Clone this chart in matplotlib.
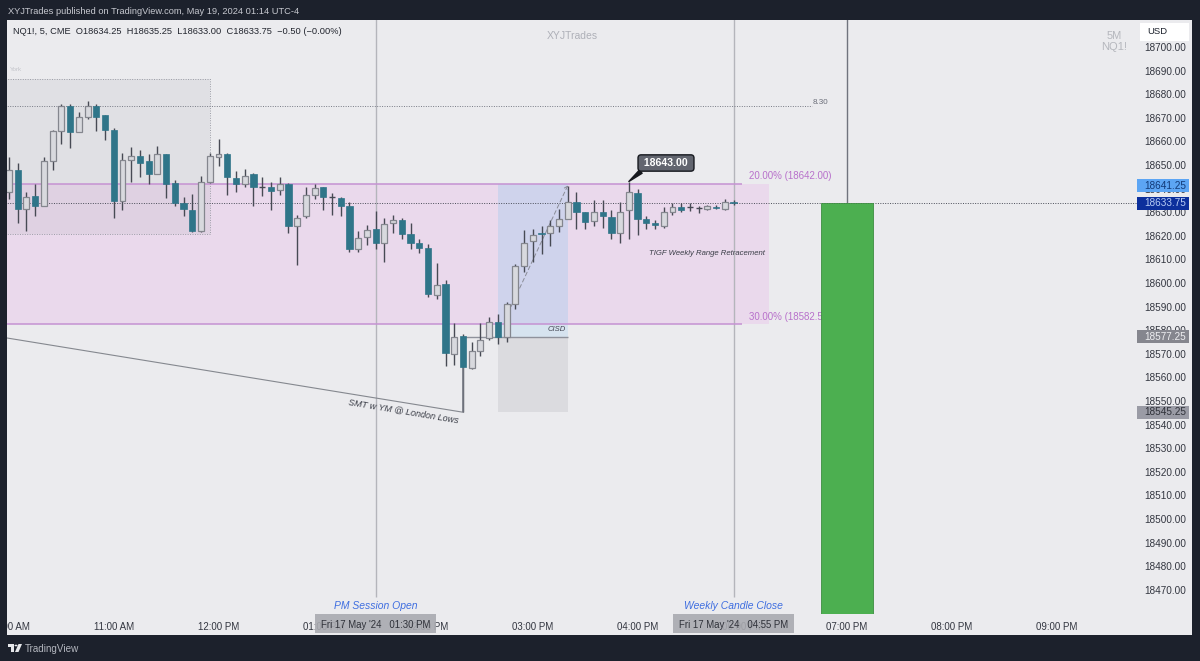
import matplotlib
matplotlib.use("Agg")
import matplotlib.pyplot as plt
from matplotlib.patches import Rectangle, Polygon, Circle, FancyArrowPatch
from matplotlib.transforms import Bbox, TransformedBbox

plt.rcParams["font.family"] = ["Liberation Sans", "DejaVu Sans"]

# 5 minute candles, first one is 10:00 AM, last one is 04:55 PM
opens = [18638.5, 18648, 18631.5, 18637, 18632.75, 18651.75, 18664.5, 18675, 18664, 18670.5,
         18675, 18671, 18664.75, 18634.75, 18652.25, 18653.75, 18651.75, 18646.25, 18654.75, 18642.25,
         18633.75, 18631, 18622, 18642.75, 18653.5, 18654.75, 18644.5, 18641.75, 18646, 18640.5,
         18640.5, 18639.25, 18641.75, 18624, 18628.5, 18637.5, 18640.5, 18636.25, 18636, 18632.5,
         18614.25, 18619.5, 18622.75, 18616.75, 18625.25, 18626.75, 18620.75, 18617, 18615, 18594.75,
         18599.5, 18570, 18577.75, 18564, 18571, 18576.5, 18583.5, 18577, 18591.25, 18607,
         18617.75, 18621, 18621, 18624, 18627.25, 18634.5, 18630, 18626.25, 18630, 18628,
         18621, 18630.75, 18638, 18627, 18625.25, 18624.25, 18630, 18632, 18632, 18631.75,
         18631.5, 18632.25, 18631.25, 18634.25]
highs = [18653.5, 18651, 18638.5, 18642, 18653.5, 18664.75, 18676, 18676, 18672.5, 18677,
         18676, 18671.25, 18665.75, 18655, 18657.75, 18656.5, 18654.75, 18658, 18654.75, 18643.5,
         18636.25, 18637.75, 18645.25, 18655.25, 18661, 18655, 18647.25, 18648.5, 18646.75, 18644.75,
         18643, 18645, 18642.25, 18628.75, 18640.5, 18641.75, 18640.5, 18638, 18636.25, 18634.5,
         18622, 18624.5, 18630.5, 18627.5, 18629, 18627.75, 18625.25, 18618.75, 18616.5, 18608.5,
         18601.25, 18583, 18578.25, 18575, 18583.25, 18585.75, 18587, 18592, 18608, 18622.5,
         18622.75, 18624, 18626.5, 18631.5, 18641.25, 18638.5, 18630, 18635, 18635, 18630.75,
         18634.5, 18643, 18639.75, 18628.25, 18626.5, 18632, 18633.75, 18634, 18633.75, 18632.75,
         18633, 18633, 18635.5, 18635.25]
lows = [18635.5, 18625.25, 18622, 18628.5, 18632.5, 18648, 18659, 18657.25, 18664, 18669.5,
        18664.25, 18660.5, 18627.75, 18631, 18643, 18644.75, 18642, 18646.25, 18636, 18632.5,
        18628.5, 18621.5, 18621.75, 18642.5, 18649.5, 18637.25, 18638.5, 18640.5, 18632.5, 18637,
        18630.75, 18637.5, 18621, 18607.5, 18627.5, 18635.5, 18631, 18629, 18628.5, 18613.25,
        18613.25, 18616.25, 18614.5, 18609, 18621, 18618.75, 18614.5, 18612.75, 18594.25, 18593.25,
        18565, 18565.25, 18545.25, 18563.5, 18569, 18575.75, 18574.25, 18575, 18589, 18604.75,
        18608.75, 18612.5, 18615.75, 18621.5, 18627.25, 18622.75, 18622.75, 18624, 18623.5, 18618.75,
        18617, 18618.75, 18620.5, 18623, 18623, 18623.5, 18629, 18630, 18630.5, 18629.75,
        18630.75, 18631.25, 18631, 18633]
closes = [18648, 18631.5, 18636.25, 18632.75, 18651.75, 18664.5, 18675, 18664, 18670.5, 18675,
          18670.5, 18665, 18634.75, 18652, 18653.75, 18651, 18646, 18654.5, 18642, 18633.75,
          18631.5, 18622, 18643, 18653.75, 18654.75, 18645, 18642, 18645.25, 18640.5, 18640.5,
          18639, 18641.75, 18624, 18627.75, 18637.5, 18640.25, 18636.25, 18636.25, 18632.75, 18614.25,
          18619.25, 18622.5, 18617, 18625, 18626.75, 18620.75, 18617, 18615, 18595.25, 18599,
          18570.25, 18577.25, 18564.5, 18571, 18576, 18583.5, 18577.25, 18591, 18607, 18617,
          18620.25, 18620.75, 18624, 18627, 18634.5, 18630, 18626, 18630, 18628.25, 18621,
          18630.25, 18638.5, 18627, 18625.25, 18624.75, 18630, 18632, 18631, 18632, 18631.75,
          18632.75, 18631.75, 18634.25, 18633.75]

price_ticks = [18470 + 10 * i for i in range(24)]
time_ticks = [0, 12, 24, 36, 48, 60, 72, 84, 96, 108, 120]
time_labels = ["10:00 AM", "11:00 AM", "12:00 PM", "01:00 PM", "02:00 PM", "03:00 PM",
               "04:00 PM", "06:00 PM", "07:00 PM", "08:00 PM", "09:00 PM"]

last_price = 18633.75
fib_top = 18642.0
fib_bottom = 18582.5
cisd_level = 18577.25
smt_low = 18545.25
pm_open_idx = 42
weekly_close_idx = 83
target_idx = 96

W, H = 1200, 661
DARK = "#1c212c"
PANEL = "#ebebee"
TEAL = "#2f7589"
LIGHT = "#d8d9de"
EDGE = "#84868e"
WICK = "#474a54"
PURPLE = "#b871cb"

fig = plt.figure(figsize=(W / 100, H / 100), dpi=100, facecolor=DARK)


def fx(px):
    return px / W


def fy(px):
    return 1 - px / H


fig.add_artist(Rectangle((fx(7), fy(635)), fx(1185), 615 / H, transform=fig.transFigure,
                         facecolor=PANEL, edgecolor="none", zorder=-1))

ax = fig.add_axes([fx(7), fy(614), fx(1133), 594 / H])
ax.patch.set_visible(False)
ax.set_xlim(-0.229, 129.55)
ax.set_ylim(18459.75, 18711.44)
for s in ax.spines.values():
    s.set_visible(False)

ax.yaxis.tick_right()
ax.set_yticks(price_ticks)
ax.set_yticklabels(["%.2f" % p for p in price_ticks], fontsize=7.2, color="#333640")
ax.set_xticks(time_ticks)
ax.set_xticklabels(time_labels, fontsize=7.0, color="#333640")
ax.tick_params(axis="both", length=0)
ax.tick_params(axis="y", pad=3)
ax.tick_params(axis="x", pad=5.5)
panel_clip = TransformedBbox(Bbox([[fx(7), 0], [1, 1]]), fig.transFigure)
for lab in ax.get_xticklabels():
    lab.set_clip_box(panel_clip)
    lab.set_clip_on(True)

# ranges and boxes
ax.add_patch(Rectangle((-1, fib_bottom), 88, fib_top - fib_bottom, facecolor="#ead9ec", edgecolor="none", zorder=1))
ax.add_patch(Rectangle((-1, 18620.75), 24.05, 65.65, facecolor="#b0b0ba", alpha=0.18, edgecolor="none", zorder=1.1))
ax.add_patch(Rectangle((-1, 18620.75), 24.05, 65.65, fill=False, edgecolor="#9a9ca5",
                       linestyle=(0, (1, 1.5)), linewidth=0.7, zorder=1.1))
ax.add_patch(Rectangle((56, fib_bottom), 8, fib_top - fib_bottom, facecolor="#cfd3ec", edgecolor="none", zorder=1.2))
ax.add_patch(Rectangle((56, cisd_level), 8, fib_bottom - cisd_level, facecolor="#d6e3ef", edgecolor="none", zorder=1.2))
ax.add_patch(Rectangle((56, smt_low), 8, cisd_level - smt_low, facecolor="#dbdbdf", edgecolor="none", zorder=1.2))

ax.hlines([fib_top, fib_bottom], -1, 84, color="#c592d2", linewidth=1.1, zorder=1.4)
ax.hlines(cisd_level, 52, 64, color="#8f929c", linewidth=1.0, zorder=1.4)
ax.hlines(18675, -1, 92, color="#777a84", linewidth=0.7, linestyle=(0, (1, 1.5)), zorder=1.5)
ax.hlines(last_price, -1, 130, color="#4a4d58", linewidth=0.7, linestyle=(0, (1, 1.5)), zorder=1.5)
ax.vlines([pm_open_idx, weekly_close_idx], 18467, 18712, color="#b4b5bb", linewidth=1.0, zorder=1.3)
ax.vlines(target_idx, last_price, 18712, color="#70737d", linewidth=1.0, zorder=1.3)

ax.plot([-0.229, 52], [18576.7, smt_low], color="#85888f", linewidth=0.8, zorder=1.6)
ax.add_patch(FancyArrowPatch((57.5, 18590), (64, 18641.25), arrowstyle="->,head_length=2,head_width=1.5",
                             linestyle=(0, (4, 3)), color="#8a8c96", linewidth=0.7, shrinkA=0, shrinkB=0, zorder=1.7))

# candles
for i in range(len(opens)):
    o, h, l, c = opens[i], highs[i], lows[i], closes[i]
    ax.vlines(i, l, h, color=WICK, linewidth=1.0, zorder=2)
    if c > o:
        ax.bar(i, c - o, bottom=o, width=0.68, color=LIGHT, edgecolor=EDGE, linewidth=0.9, zorder=3)
    elif c < o:
        ax.bar(i, o - c, bottom=c, width=0.72, color=TEAL, edgecolor=TEAL, linewidth=0.5, zorder=3)
    else:
        ax.hlines(o, i - 0.36, i + 0.36, color=WICK, linewidth=1.0, zorder=3)
ax.vlines(52, smt_low, closes[52], color="#777a84", linewidth=1.2, zorder=2.2)

ax.text(84.8, fib_top + 3.5, "20.00% (18642.00)", fontsize=7.0, color=PURPLE, va="center", zorder=4)
ax.text(84.8, fib_bottom + 3.2, "30.00% (18582.50)", fontsize=7.0, color=PURPLE, va="center", zorder=4)

# projected weekly candle
ax.add_patch(Rectangle((93, 18459.75), 6, last_price - 18459.75, facecolor="#4caf50", edgecolor="#3c8d40",
                       linewidth=0.6, zorder=5))

ax.text(92, 18676.5, "8.30", fontsize=5.8, color="#6a6d78", va="center", ha="left", zorder=4)
ax.text(80, 18612.5, "TIGF Weekly Range Retracement", fontsize=5.55, style="italic", color="#3a3d47",
        ha="center", va="center", zorder=4)
ax.text(62.7, 18580.5, "CISD", fontsize=5.5, style="italic", color="#444753", ha="center", va="center", zorder=4)
ax.text(45.2, 18545.8, "SMT w YM @ London Lows", fontsize=6.5, style="italic", color="#3a3d47",
        rotation=-9.5, ha="center", va="center", rotation_mode="anchor", zorder=4)
ax.text(0.1, 18690.3, "York", fontsize=4.5, color="#c4c5cb", ha="left", va="center", zorder=1)

ax.annotate(" 18643.00 ", xy=(71, highs[71]), xytext=(666, H - 163), textcoords="figure pixels",
            fontsize=7.6, fontweight="bold", color="white", ha="center", va="center",
            bbox=dict(boxstyle="round,pad=0.3,rounding_size=0.3", facecolor="#62656f", edgecolor="#16181e", linewidth=1.0),
            arrowprops=dict(arrowstyle="wedge,tail_width=0.4,shrink_factor=0.5", facecolor="#16181e",
                            edgecolor="#16181e", relpos=(0.08, 0), shrinkA=0, shrinkB=0),
            zorder=6)

# labels below the chart
ax.text(pm_open_idx, 18463.2, "PM Session Open", fontsize=7.5, style="italic", color="#3f6ee0", ha="center", va="center", zorder=4)
ax.text(weekly_close_idx, 18463.2, "Weekly Candle Close", fontsize=7.5, style="italic", color="#3f6ee0", ha="center", va="center", zorder=4)

for x0, text in [(315, "Fri 17 May '24   01:30 PM"), (673, "Fri 17 May '24   04:55 PM")]:
    fig.add_artist(Rectangle((fx(x0), fy(632.5)), fx(121), 18.5 / H, transform=fig.transFigure,
                             facecolor="#a9aab0", edgecolor="none", alpha=0.9, zorder=3))
    fig.text(fx(x0 + 60.5), fy(625), text, fontsize=6.9, color="#2f3139", ha="center", va="center", zorder=4)

# price axis tags
for price, bg, fg in [(18641.25, "#5ca5f4", "#123a78"), (last_price, "#0c2f9c", "#b9cdf5"),
                      (cisd_level, "#85868e", "#eeeef1"), (smt_low, "#9a9ba5", "#2f3139")]:
    fig.add_artist(Rectangle((fx(1137), fy(47 + (18700 - price) * 2.36 + 6.5)), fx(52), 13 / H,
                             transform=fig.transFigure, facecolor=bg, edgecolor="none", zorder=3))
    fig.text(fx(1144), fy(47 + (18700 - price) * 2.36), "%.2f" % price, fontsize=7.2, color=fg, va="center", zorder=4)

fig.add_artist(Rectangle((fx(1140), fy(41)), fx(49), 18 / H, transform=fig.transFigure,
                         facecolor="white", edgecolor="none", zorder=3))
fig.text(fx(1147), fy(32), "USD", fontsize=6.8, color="#1c212c", va="center", zorder=4)

# header and watermarks
fig.text(fx(8), fy(11.5), "XYJTrades published on TradingView.com, May 19, 2024 01:14 UTC-4",
         fontsize=6.65, color="#c6c8cf", va="center")
fig.text(fx(13), fy(31.5), "NQ1!, 5, CME  O18634.25  H18635.25  L18633.00  C18633.75  \u22120.50 (\u22120.00%)",
         fontsize=6.65, color="#23262f", va="center")
fig.text(fx(572), fy(36), "XYJTrades", fontsize=7.5, color="#aeb0b8", ha="center", va="center")
fig.text(fx(1114), fy(36), "5M", fontsize=8, color="#b5b7bd", ha="center", va="center")
fig.text(fx(1114), fy(47), "NQ1!", fontsize=8, color="#b5b7bd", ha="center", va="center")

# TradingView logo
logo = "#e6e7ea"
fig.add_artist(Polygon([(fx(8), fy(644)), (fx(14), fy(644)), (fx(14), fy(652)), (fx(11), fy(652)),
                        (fx(11), fy(647)), (fx(8), fy(647))], closed=True, transform=fig.transFigure,
                       facecolor=logo, edgecolor="none"))
fig.add_artist(Polygon([(fx(18.5), fy(644)), (fx(22), fy(644)), (fx(18.5), fy(652)), (fx(15), fy(652))],
                       closed=True, transform=fig.transFigure, facecolor=logo, edgecolor="none"))
fig.add_artist(Circle((fx(16), fy(645.5)), fx(1.5), transform=fig.transFigure, facecolor=logo, edgecolor="none"))
fig.text(fx(25), fy(648.5), "TradingView", fontsize=7.1, color="#b4b7bf", va="center")

fig.savefig("out.png", dpi=100, facecolor=DARK)
